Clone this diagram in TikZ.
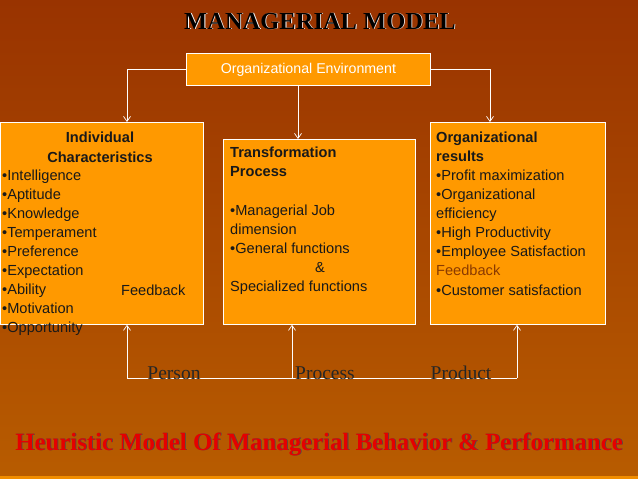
\documentclass[tikz,border=0pt]{standalone}
\usepackage{fontspec}
\setmainfont{Liberation Sans}
\newfontfamily\serifx{Liberation Serif}
\usetikzlibrary{arrows.meta}
\definecolor{bgtop}{HTML}{993300}
\definecolor{bgbot}{HTML}{B85C00}
\definecolor{boxor}{HTML}{FF9900}
\definecolor{fbc}{HTML}{8A3A00}
\begin{document}
\begin{tikzpicture}[x=1pt,y=-1pt,
  boxst/.style={draw=white,line width=0.8pt,fill=boxor},
  conn/.style={draw=white,line width=0.7pt,-{Straight Barb[length=5pt,width=7pt]}},
  tx/.style={anchor=base west,inner sep=0pt,font=\fontsize{14.6}{16}\selectfont,text=black!90},
  bt/.style={tx,font=\fontsize{14.6}{16}\selectfont\bfseries},
  ppp/.style={anchor=base,inner sep=0pt,font=\serifx\fontsize{19.5}{22}\selectfont,text=black!85}]
\useasboundingbox (0,0) rectangle (638,479);
\shade[top color=bgtop,bottom color=bgbot] (0,0) rectangle (638,479);
\fill[boxor!80!bgbot] (0,476) rectangle (638,479);
% title
\node[anchor=base,inner sep=0pt,font=\serifx\bfseries\fontsize{24.5}{26}\selectfont,text=white] at (320.8,29.8) {MANAGERIAL MODEL};
\node[anchor=base,inner sep=0pt,font=\serifx\bfseries\fontsize{24.5}{26}\selectfont,text=black] (title) at (320,29) {MANAGERIAL MODEL};
% boxes
\node[boxst,minimum width=244pt,minimum height=32pt,inner sep=0pt,anchor=north west,text=white,font=\fontsize{14.2}{16}\selectfont] (env) at (186,53) {Organizational Environment};
\node[boxst,minimum width=203pt,minimum height=202pt,anchor=north west] (ind) at (0,122) {};
\node[boxst,minimum width=192pt,minimum height=185pt,anchor=north west] (tra) at (223,139) {};
\node[boxst,minimum width=175pt,minimum height=202pt,anchor=north west] (org) at (430,122) {};
% top connectors
\coordinate (l1) at (127,69);
\coordinate (r1) at (490,69);
\draw[conn] (env.west |- l1) -- (l1) -- (l1 |- ind.north);
\draw[conn] (env.east |- r1) -- (r1) -- (r1 |- org.north);
\draw[conn] (env.south -| 298,0) -- (298,139);
% feedback lines
\coordinate (b1) at (127,378);
\coordinate (b2) at (292,378);
\coordinate (b3) at (517,378);
\draw[white,line width=0.7pt] (b1) -- (b3);
\draw[conn] (b1) -- (b1 |- ind.south);
\draw[conn] (b2) -- (b2 |- tra.south);
\draw[conn] (b3) -- (b3 |- org.south);
% left box text
\node[bt,anchor=base] at (100,142) {Individual};
\node[bt,anchor=base] at (100,162) {Characteristics};
\foreach \t [count=\i from 0] in {Intelligence,Aptitude,Knowledge,Temperament,Preference,Expectation,Ability,Motivation,Opportunity}
  \node[tx] at (2,180+19*\i) {•\t};
\node[tx] at (121,295) {Feedback};
% middle
\node[bt] at (230,157) {Transformation};
\node[bt] at (230,176) {Process};
\node[tx] at (230,215) {•Managerial Job};
\node[tx] at (230,234) {dimension};
\node[tx] at (230,253) {•General functions};
\node[tx,anchor=base] at (320,272) {\&};
\node[tx] at (230,291) {Specialized functions};
% right
\node[bt] at (436,142) {Organizational};
\node[bt] at (436,161) {results};
\node[tx] at (436,180) {•Profit maximization};
\node[tx] at (436,199) {•Organizational};
\node[tx] at (436,218) {efficiency};
\node[tx] at (436,237) {•High Productivity};
\node[tx] at (436,256) {•Employee Satisfaction};
\node[tx,text=fbc] at (436,275) {Feedback};
\node[tx] at (436,295) {•Customer satisfaction};
% person process product
\node[ppp] at (174,379) {Person};
\node[ppp] at (325,379) {Process};
\node[ppp] at (461,379) {Product};
% bottom title
\node[anchor=base,inner sep=0pt,font=\serifx\bfseries\fontsize{24.8}{26}\selectfont,text=black!70] at (319.8,450.8) {Heuristic Model Of Managerial Behavior \& Performance};
\node[anchor=base,inner sep=0pt,font=\serifx\bfseries\fontsize{24.8}{26}\selectfont,text=red!90!black] (sub) at (319,450) {Heuristic Model Of Managerial Behavior \& Performance};
\end{tikzpicture}
\end{document}
